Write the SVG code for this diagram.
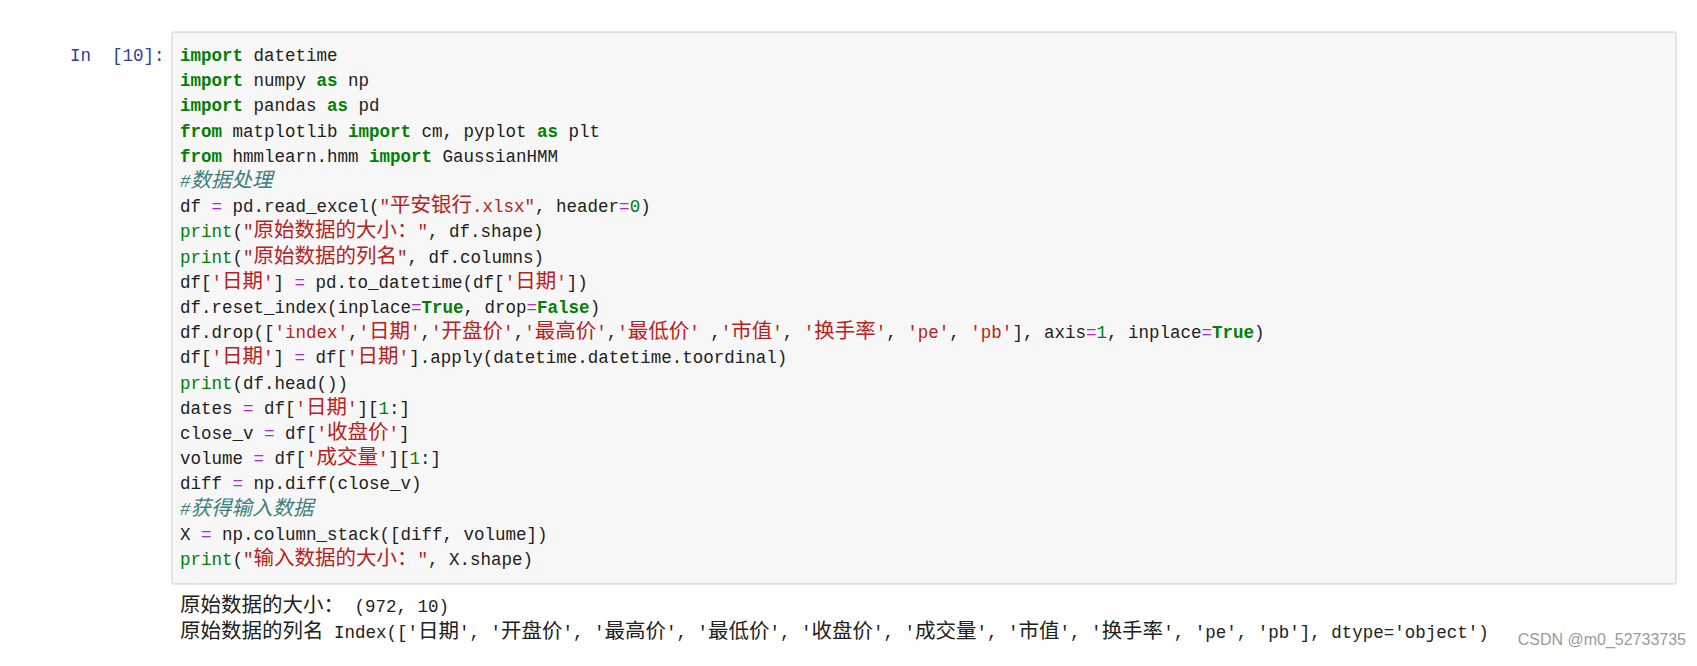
<svg xmlns="http://www.w3.org/2000/svg" width="1697" height="666" viewBox="0 0 1697 666">
<style>
text{font-family:"Liberation Mono","DejaVu Sans Mono",monospace;font-size:17.5px;fill:#212121;white-space:pre}
.k{fill:#008000;font-weight:bold}
.b{fill:#008000}
.s{fill:#BA2121}
.o{fill:#AA22FF}
.n{fill:#008000}
.c{fill:#408080;font-style:italic}
.z{font-family:"Noto Sans CJK SC","Noto Sans CJK JP",sans-serif;font-size:20.5px}
.p{fill:#303F9F}
.w{font-family:"Liberation Sans",Arial,sans-serif;font-size:16px;fill:#9a9a9a}
</style>
<rect width="1697" height="666" fill="#ffffff"/>
<g id="prompt"><text class="p" x="70" y="61">In  [10]:</text></g>
<g id="cell">
<rect x="172" y="32" width="1504" height="552" rx="2" fill="#f7f7f7" stroke="#cfcfcf"/>
<text x="180" y="61"><tspan class="k">import</tspan> datetime</text>
<text x="180" y="86.2"><tspan class="k">import</tspan> numpy <tspan class="k">as</tspan> np</text>
<text x="180" y="111.4"><tspan class="k">import</tspan> pandas <tspan class="k">as</tspan> pd</text>
<text x="180" y="136.6"><tspan class="k">from</tspan> matplotlib <tspan class="k">import</tspan> cm, pyplot <tspan class="k">as</tspan> plt</text>
<text x="180" y="161.8"><tspan class="k">from</tspan> hmmlearn.hmm <tspan class="k">import</tspan> GaussianHMM</text>
<text x="180" y="187" class="c">#<tspan class="z">数据处理</tspan></text>
<text x="180" y="212.2">df <tspan class="o">=</tspan> pd.read_excel(<tspan class="s">"<tspan class="z">平安银行</tspan>.xlsx"</tspan>, header<tspan class="o">=</tspan><tspan class="n">0</tspan>)</text>
<text x="180" y="237.4"><tspan class="b">print</tspan>(<tspan class="s">"<tspan class="z">原始数据的大小：</tspan>"</tspan>, df.shape)</text>
<text x="180" y="262.6"><tspan class="b">print</tspan>(<tspan class="s">"<tspan class="z">原始数据的列名</tspan>"</tspan>, df.columns)</text>
<text x="180" y="287.8">df[<tspan class="s">'<tspan class="z">日期</tspan>'</tspan>] <tspan class="o">=</tspan> pd.to_datetime(df[<tspan class="s">'<tspan class="z">日期</tspan>'</tspan>])</text>
<text x="180" y="313">df.reset_index(inplace<tspan class="o">=</tspan><tspan class="k">True</tspan>, drop<tspan class="o">=</tspan><tspan class="k">False</tspan>)</text>
<text x="180" y="338.2">df.drop([<tspan class="s">'index'</tspan>,<tspan class="s">'<tspan class="z">日期</tspan>'</tspan>,<tspan class="s">'<tspan class="z">开盘价</tspan>'</tspan>,<tspan class="s">'<tspan class="z">最高价</tspan>'</tspan>,<tspan class="s">'<tspan class="z">最低价</tspan>'</tspan> ,<tspan class="s">'<tspan class="z">市值</tspan>'</tspan>, <tspan class="s">'<tspan class="z">换手率</tspan>'</tspan>, <tspan class="s">'pe'</tspan>, <tspan class="s">'pb'</tspan>], axis<tspan class="o">=</tspan><tspan class="n">1</tspan>, inplace<tspan class="o">=</tspan><tspan class="k">True</tspan>)</text>
<text x="180" y="363.4">df[<tspan class="s">'<tspan class="z">日期</tspan>'</tspan>] <tspan class="o">=</tspan> df[<tspan class="s">'<tspan class="z">日期</tspan>'</tspan>].apply(datetime.datetime.toordinal)</text>
<text x="180" y="388.6"><tspan class="b">print</tspan>(df.head())</text>
<text x="180" y="413.8">dates <tspan class="o">=</tspan> df[<tspan class="s">'<tspan class="z">日期</tspan>'</tspan>][<tspan class="n">1</tspan>:]</text>
<text x="180" y="439">close_v <tspan class="o">=</tspan> df[<tspan class="s">'<tspan class="z">收盘价</tspan>'</tspan>]</text>
<text x="180" y="464.2">volume <tspan class="o">=</tspan> df[<tspan class="s">'<tspan class="z">成交量</tspan>'</tspan>][<tspan class="n">1</tspan>:]</text>
<text x="180" y="489.4">diff <tspan class="o">=</tspan> np.diff(close_v)</text>
<text x="180" y="514.6" class="c">#<tspan class="z">获得输入数据</tspan></text>
<text x="180" y="539.8">X <tspan class="o">=</tspan> np.column_stack([diff, volume])</text>
<text x="180" y="565"><tspan class="b">print</tspan>(<tspan class="s">"<tspan class="z">输入数据的大小：</tspan>"</tspan>, X.shape)</text>
</g>
<g id="output">
<text x="180" y="612"><tspan class="z">原始数据的大小：</tspan> (972, 10)</text>
<text x="180" y="638"><tspan class="z">原始数据的列名</tspan> Index(['<tspan class="z">日期</tspan>', '<tspan class="z">开盘价</tspan>', '<tspan class="z">最高价</tspan>', '<tspan class="z">最低价</tspan>', '<tspan class="z">收盘价</tspan>', '<tspan class="z">成交量</tspan>', '<tspan class="z">市值</tspan>', '<tspan class="z">换手率</tspan>', 'pe', 'pb'], dtype='object')</text>
</g>
<g id="watermark"><text class="w" x="1686" y="645" text-anchor="end">CSDN @m0_52733735</text></g>
</svg>
